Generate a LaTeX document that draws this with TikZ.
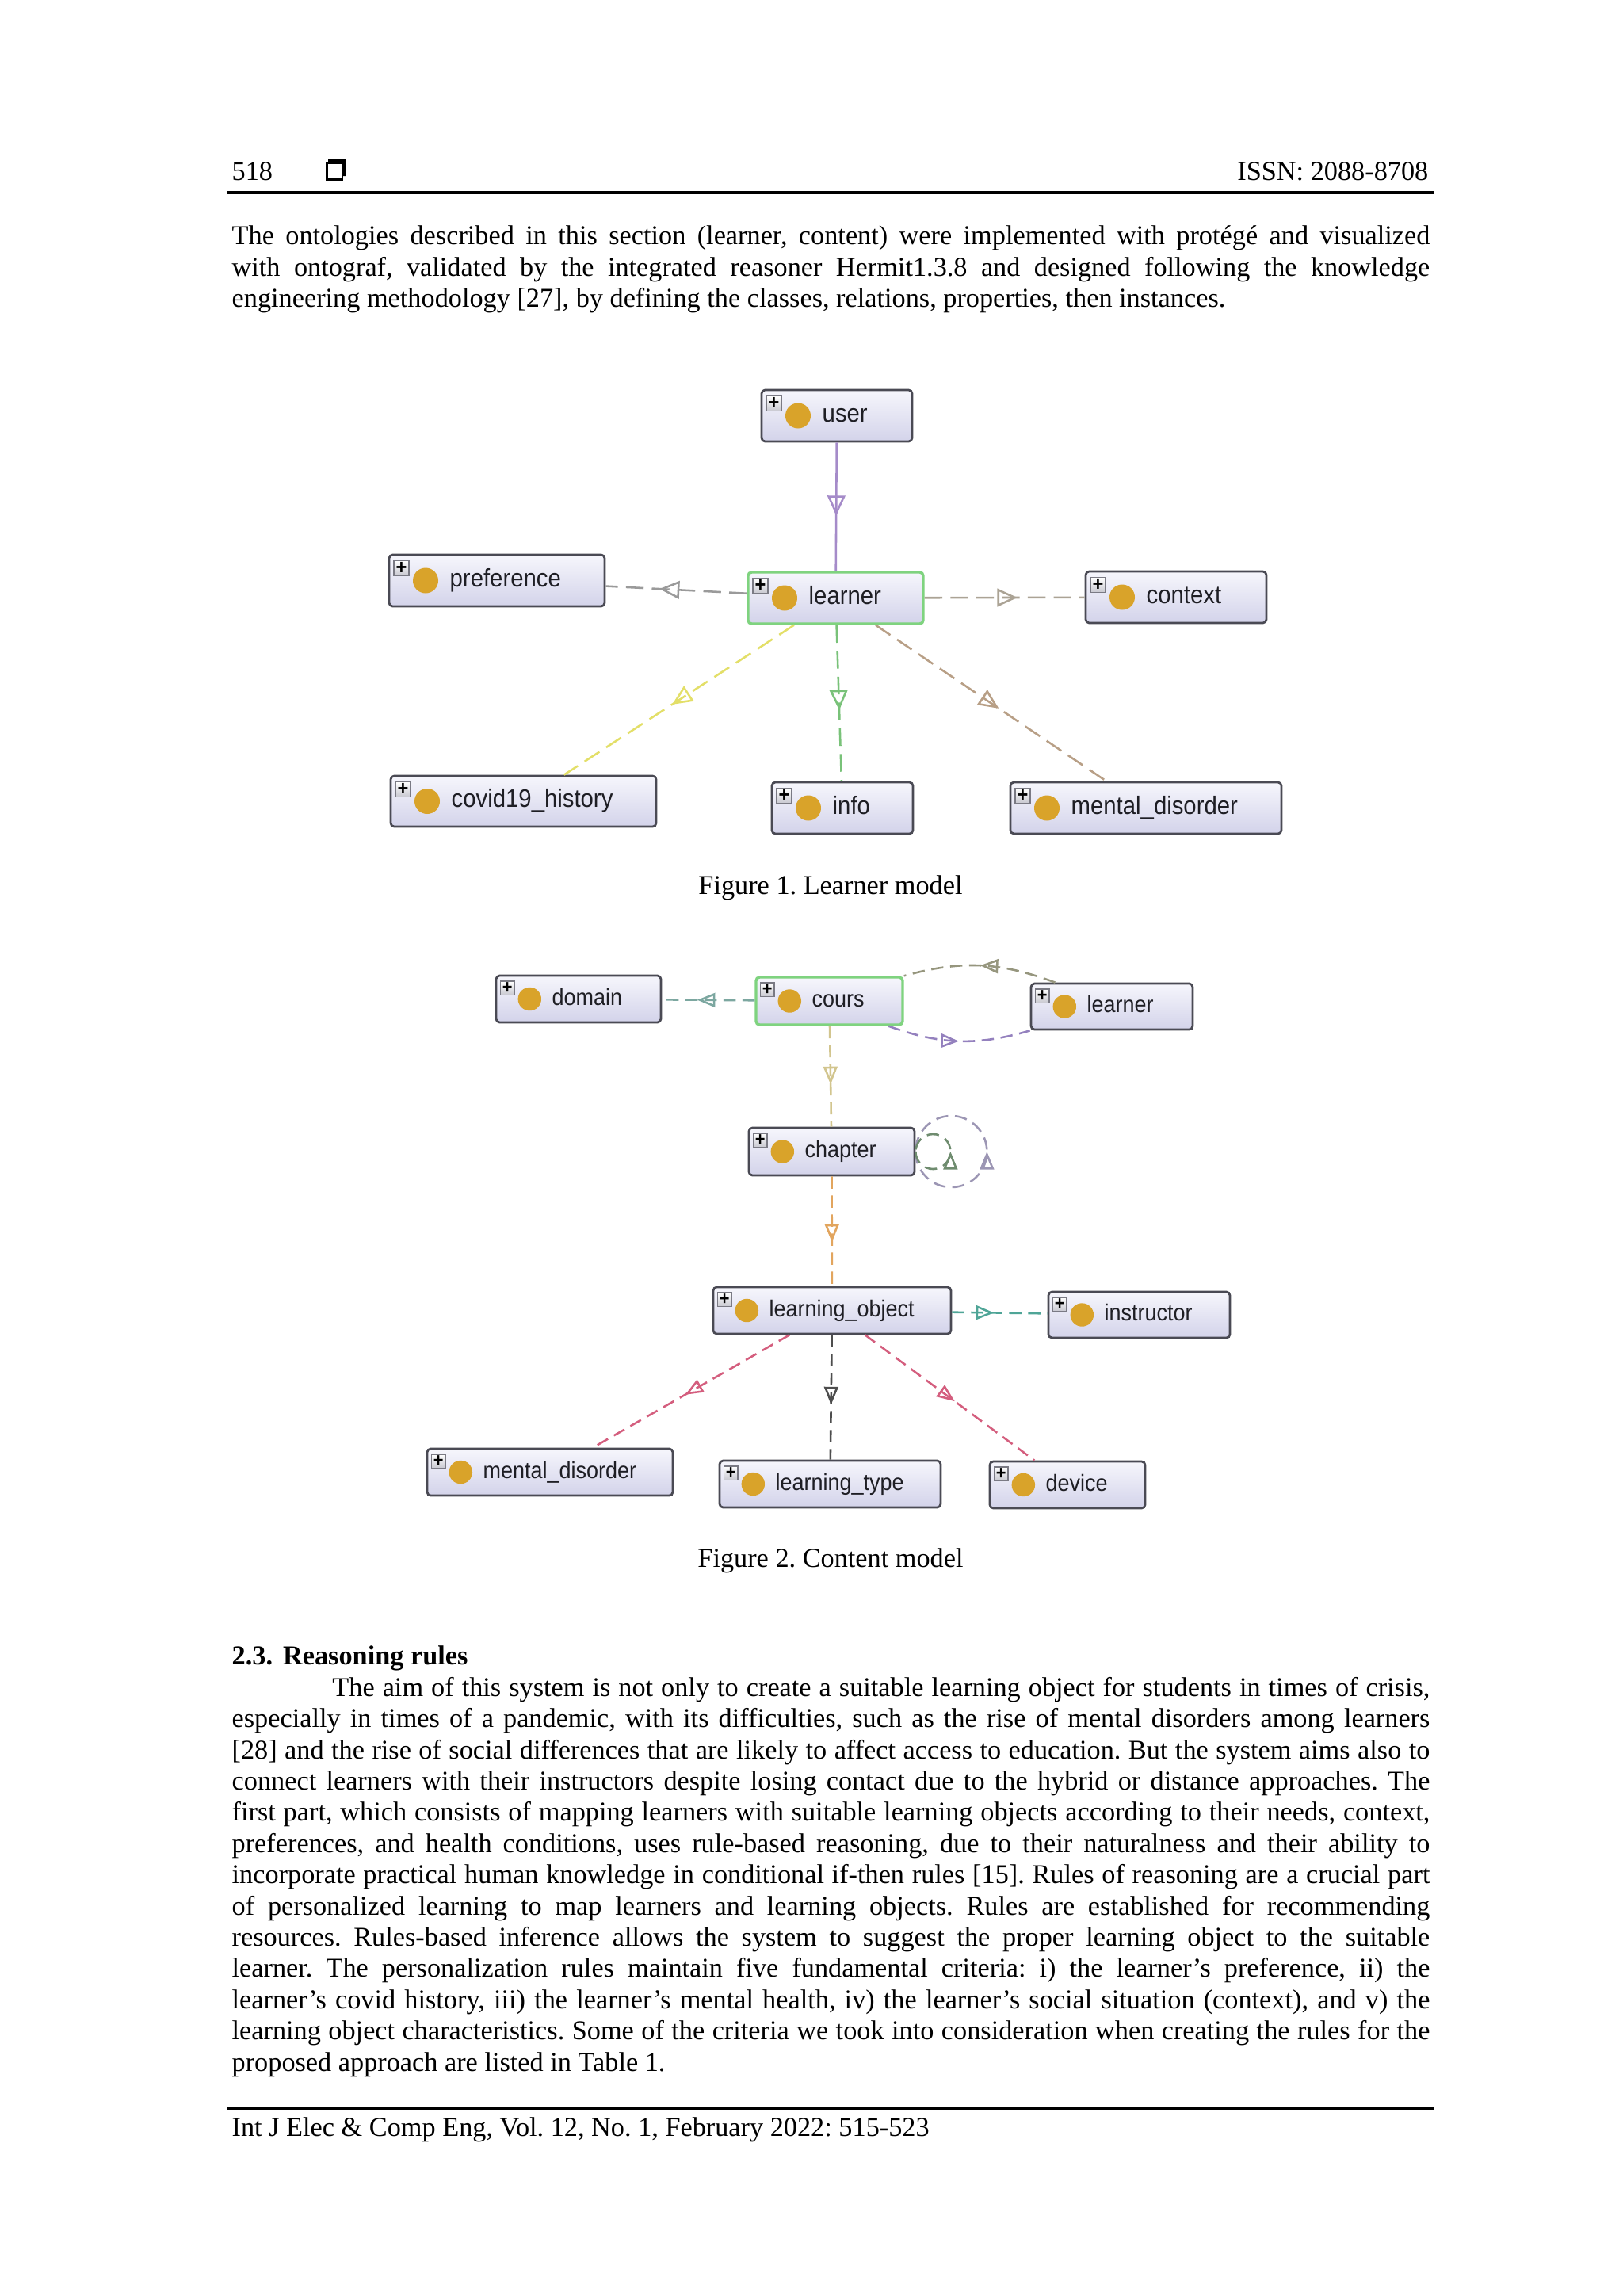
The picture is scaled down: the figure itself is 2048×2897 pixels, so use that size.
\documentclass[tikz,border=0pt]{standalone}
\usepackage{fontspec}
\setmainfont{Liberation Serif}
\newfontfamily\ofont[FakeStretch=0.92]{Liberation Sans}
\usetikzlibrary{arrows.meta,decorations.markings}
\definecolor{boxtop}{HTML}{F6F6FC}
\definecolor{boxbot}{HTML}{D3D3EA}
\definecolor{boxdraw}{HTML}{4A4A54}
\definecolor{selgreen}{HTML}{7FD37F}
\definecolor{gold}{HTML}{D9A32A}
\definecolor{plusfill}{HTML}{C8C8D0}
\definecolor{plusdraw}{HTML}{7A7A84}
\definecolor{labelc}{HTML}{1E1E24}
\definecolor{cUser}{HTML}{A58BC9}
\definecolor{cPref}{HTML}{9A9A9A}
\definecolor{cCtx}{HTML}{ABA395}
\definecolor{cCovid}{HTML}{E3DF68}
\definecolor{cInfo}{HTML}{79C279}
\definecolor{cMent}{HTML}{B89F86}
\definecolor{cDom}{HTML}{7CA7A0}
\definecolor{cTop}{HTML}{96967E}
\definecolor{cBot}{HTML}{9481BE}
\definecolor{cChap}{HTML}{D2C58E}
\definecolor{cLO}{HTML}{E2A55E}
\definecolor{cInst}{HTML}{4FA597}
\definecolor{cPink}{HTML}{D45E7E}
\definecolor{cLT}{HTML}{4D4D4D}
\definecolor{cLoopBig}{HTML}{9C96B4}
\definecolor{cLoopSmall}{HTML}{6F8C6F}
\tikzset{
  obox/.style={draw=boxdraw,line width=0.8pt,rounded corners=1.3pt,top color=boxtop,bottom color=boxbot,inner sep=0pt},
  selnode/.style={draw=selgreen,line width=1pt},
  plusbox/.style={draw=plusdraw,line width=0.4pt,top color=white,bottom color=plusfill,inner sep=0pt},
  dot/.style={circle,fill=gold,inner sep=0pt},
  eA/.style={line width=0.75pt,dash pattern=on 6.5pt off 3pt},
  eB/.style={line width=0.75pt,dash pattern=on 4.5pt off 2.5pt},
  tri/.style={postaction={decorate,decoration={markings,mark=at position #1 with {\arrow{Triangle[open,length=7.4pt,width=6.6pt]}}}}},
  trib/.style={postaction={decorate,decoration={markings,mark=at position #1 with {\arrow{Triangle[open,length=6.6pt,width=5.2pt]}}}}},
  bodyf/.style={inner sep=0pt,font=\fontsize{10}{11.5}\selectfont\frenchspacing}
}
\newcommand{\onode}[8][]{%
  \pgfmathsetmacro\onW{(#5-#3)*0.010254}%
  \pgfmathsetmacro\onH{(#6-#4)*0.010254}%
  \pgfmathsetmacro\onCX{(#3+#5)/2}%
  \pgfmathsetmacro\onCY{(#4+#6)/2}%
  \pgfmathsetmacro\onPS{19*#8*0.010254}%
  \pgfmathsetmacro\onCS{32*#8*0.010254}%
  \pgfmathsetmacro\onFS{9.3*#8}%
  \pgfmathsetmacro\onPF{7.5*#8}%
  \node[obox,#1,minimum width=\onW cm,minimum height=\onH cm] (#2) at (\onCX,\onCY) {};
  \node[plusbox,minimum size=\onPS cm,font=\ofont\bfseries\fontsize{\onPF}{\onPF}\selectfont] (#2-p) at ({#3+15.5*#8},{#4+17*#8}) {+};
  \node[dot,minimum size=\onCS cm] (#2-c) at ({#3+46*#8},\onCY) {};
  \node[anchor=mid west,inner sep=0pt,text=labelc,font=\ofont\fontsize{\onFS}{\onFS}\selectfont] (#2-t) at ({#3+76*#8},\onCY) {#7};
}
\newcommand{\pjline}[1]{\hbox to 15.5cm{\strut#1}}
\newcommand{\plline}[1]{\hbox{\strut#1}}
\begin{document}
\begin{tikzpicture}[x=0.010254cm,y=-0.010254cm]
\fill[white] (0,0) rectangle (2048,2897);
\useasboundingbox (0,0) rectangle (2048,2897);

% header
\node[bodyf,anchor=base west] (pagenum) at (292,227) {518};
\fill[black] (414,201) -- (436,201) -- (436,222) -- (431.7,222) -- (431.7,206) -- (414,206) -- cycle;
\draw[line width=0.7pt] (412.5,206) rectangle (431.7,226.5);
\node[bodyf,anchor=base east] (issn) at (1803,227) {ISSN: 2088-8708};
\draw[line width=1pt] (287,243) -- (1809,243);

% paragraph 1
\node[bodyf,anchor=north west] (para1) at (292,280.5) {\vbox{%
\pjline{The ontologies described in this section (learner, content) were implemented with protégé and visualized}
\pjline{with ontograf, validated by the integrated reasoner Hermit1.3.8 and designed following the knowledge}
\plline{engineering methodology [27], by defining the classes, relations, properties, then instances.}}};

% ---------- Figure 1 ----------
\onode{user}{961}{492}{1151}{557}{user}{1}
\onode{preference}{491}{700}{763}{765}{preference}{1}
\onode[selnode]{learner}{944}{722}{1165}{787}{learner}{1}
\onode{context}{1370}{721}{1598}{786}{context}{1}
\onode{covid}{493}{979}{828}{1043}{covid19\_history}{1}
\onode{info}{974}{987}{1152}{1052}{info}{1}
\onode{mental}{1275}{987}{1617}{1052}{mental\_disorder}{1}

\draw[line width=0.75pt,cUser,tri=0.57] (user) -- (learner);
\draw[eA,cPref,tri=0.62] (learner) -- (preference);
\draw[eA,cCtx,tri=0.58] (learner) -- (context);
\draw[eA,cCovid,tri=0.53] (learner) -- (covid);
\draw[eA,cInfo,tri=0.545] (learner) -- (info);
\draw[eA,cMent,tri=0.535] (learner) -- (mental);

\node[bodyf,anchor=base] (cap1) at (1048,1128) {Figure 1. Learner model};

% ---------- Figure 2 ----------
\onode{domain}{626}{1231}{834}{1290}{domain}{0.92}
\onode[selnode]{cours}{954}{1233}{1139}{1293}{cours}{0.92}
\onode{learnerB}{1301}{1241}{1505}{1299}{learner}{0.92}
\onode{chapter}{945}{1423}{1154}{1483}{chapter}{0.92}
\onode{lobj}{900}{1624}{1200}{1683}{learning\_object}{0.92}
\onode{instructor}{1323}{1630}{1552}{1688}{instructor}{0.92}
\onode{mentalB}{539}{1828}{849}{1887}{mental\_disorder}{0.92}
\onode{ltype}{908}{1843}{1187}{1902}{learning\_type}{0.92}
\onode{device}{1249}{1844}{1445}{1903}{device}{0.92}

\draw[eB,cDom,trib=0.62] (cours) -- (domain);
\draw[eB,cTop,trib=0.5] (learnerB.157) to[bend right=18] (cours.north east);
\draw[eB,cBot,trib=0.5] (cours.337) to[bend right=18] (learnerB.south west);
\draw[eB,cChap,trib=0.58] (cours) -- (chapter);
\draw[eB,cLoopBig,trib=0.5] (chapter.east) arc[start angle=180,end angle=540,radius=0.4614cm];
\draw[eB,cLoopSmall,trib=0.5] (chapter.east) arc[start angle=180,end angle=540,radius=0.2256cm];
\draw[eB,cLO,trib=0.6] (chapter) -- (lobj);
\draw[eB,cInst,trib=0.44] (lobj) -- (instructor);
\draw[eB,cPink,trib=0.53] (lobj) -- (mentalB);
\draw[eB,cLT,trib=0.56] (lobj) -- (ltype);
\draw[eB,cPink,trib=0.53] (lobj) -- (device);

\node[bodyf,anchor=base] (cap2) at (1048,1977) {Figure 2. Content model};

% section 2.3
\node[bodyf,anchor=north west] (sec) at (292,2072.5) {\vbox{%
\plline{\bfseries 2.3.\hspace{3.8pt}Reasoning rules}
\pjline{\hspace*{1.3cm}The aim of this system is not only to create a suitable learning object for students in times of crisis,}
\pjline{especially in times of a pandemic, with its difficulties, such as the rise of mental disorders among learners}
\pjline{[28] and the rise of social differences that are likely to affect access to education. But the system aims also to}
\pjline{connect learners with their instructors despite losing contact due to the hybrid or distance approaches. The}
\pjline{first part, which consists of mapping learners with suitable learning objects according to their needs, context,}
\pjline{preferences, and health conditions, uses rule-based reasoning, due to their naturalness and their ability to}
\pjline{incorporate practical human knowledge in conditional if-then rules [15]. Rules of reasoning are a crucial part}
\pjline{of personalized learning to map learners and learning objects. Rules are established for recommending}
\pjline{resources. Rules-based inference allows the system to suggest the proper learning object to the suitable}
\pjline{learner. The personalization rules maintain five fundamental criteria: i) the learner’s preference, ii) the}
\pjline{learner’s covid history, iii) the learner’s mental health, iv) the learner’s social situation (context), and v) the}
\pjline{learning object characteristics. Some of the criteria we took into consideration when creating the rules for the}
\plline{proposed approach are listed in Table 1.}}};

% footer
\draw[line width=1pt] (287,2660) -- (1809,2660);
\node[bodyf,anchor=base west] (footer) at (292,2695) {Int J Elec \& Comp Eng, Vol. 12, No. 1, February 2022: 515-523};
\end{tikzpicture}
\end{document}
